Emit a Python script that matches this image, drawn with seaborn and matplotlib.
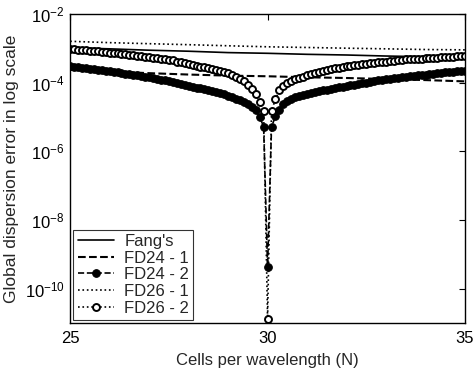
import numpy as np
import pandas as pd
import matplotlib
matplotlib.use("Agg")
import matplotlib.pyplot as plt
import seaborn as sns
from matplotlib.ticker import FixedLocator, FixedFormatter, NullLocator

# ---- data ----
n_fine = [round(25 + 0.1 * i, 1) for i in range(101)]
n_coarse = [25, 26, 27, 28, 29, 30, 31, 32, 33, 34, 35]

fang = [1.05e-3, 9.77e-4, 8.91e-4, 8.32e-4, 7.59e-4, 7.24e-4,
        6.76e-4, 6.46e-4, 6.03e-4, 5.75e-4, 5.62e-4]
fd24_1 = [2.40e-4, 2.14e-4, 1.91e-4, 1.74e-4, 1.62e-4, 1.55e-4,
          1.45e-4, 1.38e-4, 1.29e-4, 1.20e-4, 1.10e-4]
fd26_1 = [1.62e-3, 1.48e-3, 1.38e-3, 1.29e-3, 1.20e-3, 1.12e-3,
          1.07e-3, 1.02e-3, 9.77e-4, 9.33e-4, 9.12e-4]

fd24_2 = [3.02e-4, 2.95e-4, 2.82e-4, 2.75e-4, 2.63e-4, 2.57e-4, 2.51e-4, 2.40e-4, 2.34e-4, 2.24e-4,
          2.19e-4, 2.09e-4, 2.04e-4, 1.95e-4, 1.86e-4, 1.78e-4, 1.74e-4, 1.66e-4, 1.58e-4, 1.51e-4,
          1.45e-4, 1.38e-4, 1.29e-4, 1.23e-4, 1.17e-4, 1.10e-4, 1.05e-4, 9.77e-5, 9.33e-5, 8.71e-5,
          8.32e-5, 7.76e-5, 7.24e-5, 6.92e-5, 6.46e-5, 6.03e-5, 5.62e-5, 5.25e-5, 4.90e-5, 4.57e-5,
          4.17e-5, 3.80e-5, 3.47e-5, 3.16e-5, 2.75e-5, 2.40e-5, 2.00e-5, 1.58e-5, 1.02e-5, 5.25e-6,
          4.37e-10,
          5.25e-6, 1.05e-5, 1.66e-5, 2.40e-5, 3.02e-5, 3.47e-5, 3.80e-5, 4.17e-5, 4.47e-5, 4.79e-5,
          5.13e-5, 5.50e-5, 5.75e-5, 6.03e-5, 6.31e-5, 6.61e-5, 7.08e-5, 7.41e-5, 7.76e-5, 8.13e-5,
          8.51e-5, 8.91e-5, 9.33e-5, 9.77e-5, 1.02e-4, 1.07e-4, 1.12e-4, 1.17e-4, 1.20e-4, 1.26e-4,
          1.32e-4, 1.35e-4, 1.41e-4, 1.48e-4, 1.51e-4, 1.55e-4, 1.58e-4, 1.66e-4, 1.70e-4, 1.74e-4,
          1.78e-4, 1.82e-4, 1.91e-4, 1.95e-4, 2.00e-4, 2.04e-4, 2.09e-4, 2.14e-4, 2.19e-4, 2.24e-4]

fd26_2 = [9.77e-4, 9.55e-4, 9.33e-4, 9.12e-4, 8.91e-4, 8.71e-4, 8.51e-4, 8.32e-4, 8.13e-4, 7.94e-4,
          7.59e-4, 7.41e-4, 7.24e-4, 7.08e-4, 6.76e-4, 6.61e-4, 6.46e-4, 6.17e-4, 6.03e-4, 5.75e-4,
          5.62e-4, 5.37e-4, 5.25e-4, 5.01e-4, 4.90e-4, 4.68e-4, 4.47e-4, 4.17e-4, 3.98e-4, 3.72e-4,
          3.55e-4, 3.31e-4, 3.16e-4, 2.95e-4, 2.82e-4, 2.63e-4, 2.51e-4, 2.34e-4, 2.19e-4, 2.04e-4,
          1.91e-4, 1.70e-4, 1.51e-4, 1.32e-4, 1.10e-4, 8.91e-5, 6.61e-5, 4.68e-5, 2.82e-5, 1.55e-5,
          1.35e-11,
          1.55e-5, 3.31e-5, 6.03e-5, 8.32e-5, 1.02e-4, 1.15e-4, 1.26e-4, 1.38e-4, 1.51e-4, 1.66e-4,
          1.82e-4, 1.95e-4, 2.09e-4, 2.24e-4, 2.34e-4, 2.45e-4, 2.63e-4, 2.75e-4, 2.88e-4, 3.02e-4,
          3.16e-4, 3.24e-4, 3.39e-4, 3.47e-4, 3.63e-4, 3.72e-4, 3.80e-4, 3.98e-4, 4.07e-4, 4.17e-4,
          4.27e-4, 4.37e-4, 4.57e-4, 4.68e-4, 4.79e-4, 4.79e-4, 4.90e-4, 5.01e-4, 5.01e-4, 5.13e-4,
          5.25e-4, 5.25e-4, 5.37e-4, 5.50e-4, 5.62e-4, 5.62e-4, 5.75e-4, 5.89e-4, 5.89e-4, 6.03e-4]

x_ticks = [25, 30, 35]
y_ticks = [1e-10, 1e-8, 1e-6, 1e-4, 1e-2]
y_tick_labels = [r"$10^{-10}$", r"$10^{-8}$", r"$10^{-6}$", r"$10^{-4}$", r"$10^{-2}$"]

# ---- style ----
sns.set_style("white")
plt.rcParams["font.family"] = ["Liberation Sans", "DejaVu Sans"]
plt.rcParams["mathtext.fontset"] = "custom"
plt.rcParams["mathtext.rm"] = "Liberation Sans"
plt.rcParams["mathtext.it"] = "Liberation Sans"
plt.rcParams["mathtext.default"] = "regular"

fig = plt.figure(figsize=(4.74, 3.73), dpi=100)
ax = fig.add_axes([0.148, 0.134, 0.833, 0.828])

kw = dict(ax=ax, estimator=None, sort=False, color="black")
sns.lineplot(x=n_coarse, y=fang, linestyle="-", linewidth=1.2, label="Fang's", **kw)
sns.lineplot(x=n_coarse, y=fd24_1, linestyle="--", linewidth=1.5, label="FD24 - 1", **kw)
sns.lineplot(x=n_fine, y=fd24_2, linestyle="--", linewidth=1.2, marker="o",
             markersize=5.5, markerfacecolor="black", markeredgecolor="black",
             label="FD24 - 2", **kw)
sns.lineplot(x=n_coarse, y=fd26_1, linestyle=":", linewidth=1.2, label="FD26 - 1", **kw)
sns.lineplot(x=n_fine, y=fd26_2, linestyle=":", linewidth=1.2, marker="o",
             markersize=5, markerfacecolor="white", markeredgecolor="black",
             markeredgewidth=1.4, label="FD26 - 2", **kw)

ax.set_yscale("log")
ax.set_xlim(25, 35)
ax.set_ylim(1e-11, 1e-2)
ax.xaxis.set_major_locator(FixedLocator(x_ticks))
ax.yaxis.set_major_locator(FixedLocator(y_ticks))
ax.yaxis.set_major_formatter(FixedFormatter(y_tick_labels))
ax.yaxis.set_minor_locator(NullLocator())
ax.xaxis.set_minor_locator(NullLocator())
ax.tick_params(axis="both", direction="in", top=True, right=True, length=4,
               width=0.8, labelsize=12, colors="black")
ax.tick_params(axis="x", pad=6)
ax.tick_params(axis="y", pad=4)
ax.set_xticklabels([str(t) for t in x_ticks])

for s in ax.spines.values():
    s.set_color("black")
    s.set_linewidth(1.0)

ax.set_xlabel("Cells per wavelength (N)", fontsize=12, labelpad=5)
ax.set_ylabel("Global dispersion error in log scale", fontsize=12.5, labelpad=4)

leg = ax.legend(loc="lower left", fontsize=12, frameon=True, fancybox=False,
                edgecolor="black", borderaxespad=0.2, handlelength=2.2,
                labelspacing=0.1, borderpad=0.25, handletextpad=0.6)
leg.get_frame().set_linewidth(0.8)

fig.savefig("out.png", dpi=100)
